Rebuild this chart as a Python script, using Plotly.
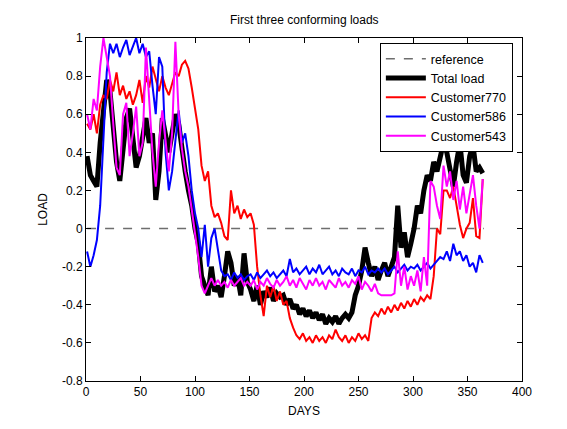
import plotly.graph_objects as go

# day index, every third day of the year
days = list(range(1, 365, 3))

total_load = [
    0.38, 0.28, 0.25, 0.22, 0.45, 0.65, 0.78, 0.72, 0.55, 0.35,
    0.25, 0.40, 0.58, 0.63, 0.45, 0.32, 0.38, 0.50, 0.58, 0.45,
    0.50, 0.15, 0.30, 0.58, 0.50, 0.40, 0.50, 0.60, 0.55, 0.40,
    0.30, 0.20, 0.12, 0.00, -0.08, -0.25, -0.30, -0.35, -0.20, -0.33,
    -0.30, -0.36, -0.25, -0.12, -0.18, -0.30, -0.25, -0.35, -0.13, -0.28,
    -0.32, -0.38, -0.30, -0.40, -0.33, -0.36, -0.31, -0.38, -0.34, -0.36,
    -0.35, -0.40, -0.37, -0.42, -0.40, -0.45, -0.42, -0.46, -0.43, -0.47,
    -0.44, -0.48, -0.45, -0.50, -0.47, -0.49, -0.46, -0.50, -0.47, -0.45,
    -0.47, -0.44, -0.35, -0.30, -0.22, -0.10, -0.18, -0.25, -0.20, -0.27,
    -0.22, -0.18, -0.25, -0.20, -0.15, 0.12, -0.10, -0.02, -0.15, -0.08,
    0.00, 0.12, 0.08, 0.20, 0.28, 0.25, 0.35, 0.30, 0.38, 0.45,
    0.40, 0.30, 0.22, 0.35, 0.45, 0.28, 0.24, 0.38, 0.44, 0.30,
    0.32, 0.29,
]

cust770 = [
    0.55, 0.52, 0.60, 0.50, 0.65, 0.70, 0.68, 0.78, 0.72, 0.82,
    0.70, 0.75, 0.68, 0.72, 0.65, 0.70, 0.78, 0.66, 0.80, 0.74,
    0.85, 0.78, 0.72, 0.80, 0.74, 0.70, 0.76, 0.82, 0.80, 0.86,
    0.88, 0.84, 0.74, 0.62, 0.52, 0.33, 0.25, 0.30, 0.12, 0.06,
    0.08, 0.03, -0.04, -0.06, 0.20, 0.08, 0.12, 0.05, 0.10, 0.06,
    0.08, 0.02, -0.20, -0.35, -0.46, -0.30, -0.36, -0.30, -0.38, -0.33,
    -0.40, -0.38, -0.47, -0.52, -0.56, -0.58, -0.55, -0.59, -0.57, -0.60,
    -0.56, -0.59, -0.57, -0.60, -0.56, -0.58, -0.53, -0.57, -0.59, -0.56,
    -0.60, -0.57, -0.59, -0.55, -0.58, -0.56, -0.59, -0.47, -0.44, -0.46,
    -0.42, -0.45, -0.41, -0.44, -0.40, -0.43, -0.39, -0.42, -0.38, -0.41,
    -0.37, -0.40, -0.36, -0.38, -0.35, -0.37, -0.25, 0.00, -0.03, 0.20,
    0.20, 0.16, 0.22, 0.12, 0.02, -0.05, 0.00, 0.03, 0.16, -0.04,
    -0.05, 0.26,
]

cust586 = [
    -0.12, -0.20, -0.14, -0.06, 0.12, 0.50, 0.82, 0.97, 0.92, 0.97,
    0.90, 0.95, 0.99, 0.91, 0.96, 1.00, 0.92, 0.97, 0.90, 0.93,
    0.75, 0.60, 0.90, 0.85, 0.40, 0.20, 0.30, 0.45, 0.62, 0.45,
    0.50, 0.38, 0.20, 0.08, 0.00, -0.15, 0.02, -0.20, -0.05, 0.00,
    -0.12, -0.22, -0.25, -0.24, -0.27, -0.23, -0.26, -0.24, -0.27, -0.25,
    -0.24, -0.27, -0.23, -0.26, -0.24, -0.22, -0.25, -0.23, -0.26, -0.24,
    -0.22, -0.25, -0.16, -0.23, -0.21, -0.24, -0.22, -0.20, -0.24, -0.21,
    -0.23, -0.19, -0.24, -0.22, -0.20, -0.24, -0.22, -0.25, -0.21, -0.23,
    -0.24, -0.21, -0.25, -0.22, -0.23, -0.20, -0.24, -0.22, -0.23, -0.21,
    -0.23, -0.21, -0.24, -0.22, -0.20, -0.23, -0.21, -0.19, -0.22, -0.20,
    -0.21, -0.19, -0.22, -0.20, -0.18, -0.21, -0.19, -0.17, -0.15, -0.16,
    -0.12, -0.17, -0.08, -0.14, -0.12, -0.17, -0.14, -0.20, -0.18, -0.23,
    -0.14, -0.18,
]

cust543 = [
    0.60, 0.52, 0.68, 0.62, 0.85, 1.00, 0.90, 0.80, 0.55, 0.32,
    0.28, 0.60, 0.66, 0.38, 0.50, 0.64, 0.38, 0.45, 0.95, 0.70,
    0.40, 0.22, 0.45, 0.62, 0.45, 0.30, 0.50, 0.98, 0.60, 0.42,
    0.30, 0.22, 0.10, -0.02, -0.15, -0.30, -0.34, -0.30, -0.26, -0.30,
    -0.27, -0.30, -0.28, -0.31, -0.27, -0.30, -0.28, -0.26, -0.30, -0.28,
    -0.30, -0.27, -0.32, -0.28, -0.30, -0.26, -0.29, -0.31, -0.27, -0.30,
    -0.28, -0.25, -0.30, -0.27, -0.31, -0.26, -0.29, -0.32, -0.27, -0.30,
    -0.26, -0.30, -0.28, -0.32, -0.27, -0.29, -0.31, -0.26, -0.30, -0.28,
    -0.31, -0.27, -0.29, -0.25, -0.32, -0.28, -0.30, -0.33, -0.29, -0.34,
    -0.35, -0.35, -0.35, -0.35, -0.34, -0.12, -0.30, -0.20, -0.32, -0.25,
    -0.30, -0.22, -0.33, -0.15, -0.30, 0.25, 0.22, 0.12, 0.05, 0.33,
    0.22, 0.30, 0.15, 0.25, 0.10, 0.22, 0.08, 0.18, 0.28, 0.12,
    0.00, 0.26,
]

ref_days = [1, 365]
ref_level = [0, 0]

x_ticks = [0, 50, 100, 150, 200, 250, 300, 350, 400]
y_ticks = [-0.8, -0.6, -0.4, -0.2, 0, 0.2, 0.4, 0.6, 0.8, 1]
y_labels = ['-0.8', '-0.6', '-0.4', '-0.2', '0', '0.2', '0.4', '0.6', '0.8', '1']

fig = go.Figure()
fig.add_trace(go.Scatter(x=ref_days, y=ref_level, mode='lines', name='reference',
                         line=dict(color='#6e6e6e', width=1.5, dash='dash')))
fig.add_trace(go.Scatter(x=days, y=total_load, mode='lines', name='Total load',
                         line=dict(color='black', width=5)))
fig.add_trace(go.Scatter(x=days, y=cust770, mode='lines', name='Customer770',
                         line=dict(color='#ff0000', width=2)))
fig.add_trace(go.Scatter(x=days, y=cust586, mode='lines', name='Customer586',
                         line=dict(color='#0000ff', width=2)))
fig.add_trace(go.Scatter(x=days, y=cust543, mode='lines', name='Customer543',
                         line=dict(color='#ff00ff', width=2)))

axis_style = dict(showline=True, linecolor='black', linewidth=1, mirror='ticks',
                  ticks='inside', ticklen=5, tickcolor='black', showgrid=False,
                  zeroline=False, tickfont=dict(size=12, color='black'))

# page body adds an 8px offset, so the figure is drawn 8px smaller
fig.update_layout(
    width=559, height=421,
    margin=dict(l=78, r=45, t=30, b=48),
    paper_bgcolor='white', plot_bgcolor='white',
    font=dict(family='Liberation Sans, Arial', size=12, color='black'),
    title=dict(text='First three conforming loads', x=0.53, xanchor='center',
               y=0.971, yanchor='middle', font=dict(size=12)),
    xaxis=dict(range=[0, 400], tickvals=x_ticks,
               title=dict(text='DAYS', standoff=8, font=dict(size=12)), **axis_style),
    yaxis=dict(range=[-0.8, 1], tickvals=y_ticks, ticktext=y_labels,
               title=dict(text='LOAD', standoff=11, font=dict(size=12)), **axis_style),
    legend=dict(x=0.674, y=0.985, xanchor='left', yanchor='top',
                bgcolor='white', bordercolor='black', borderwidth=1,
                font=dict(size=12.5), tracegroupgap=0, itemwidth=40),
    showlegend=True,
)

fig.write_html("out.html")
